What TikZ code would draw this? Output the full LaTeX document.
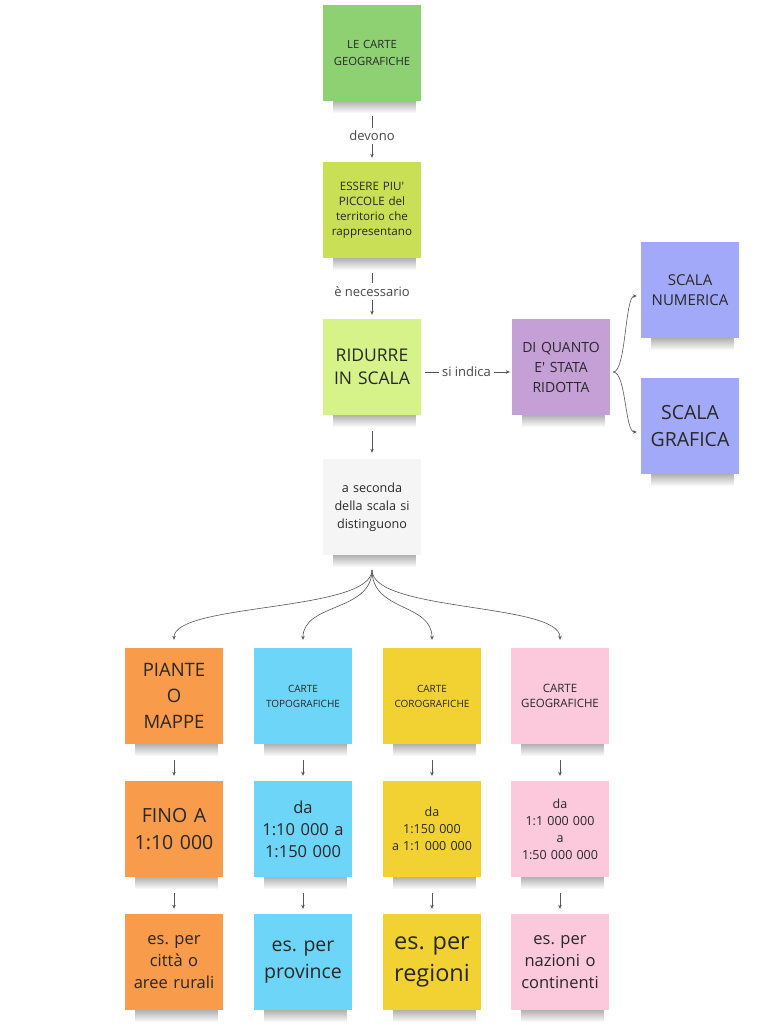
\documentclass[tikz,border=0pt]{standalone}
\usepackage{fontspec}
\setmainfont{Open Sans}
\usetikzlibrary{arrows.meta, positioning, calc, backgrounds, fadings}
\definecolor{mytext}{RGB}{40,40,40}
\definecolor{myline}{RGB}{85,85,85}
\definecolor{mygreen}{RGB}{141,209,115}
\definecolor{mylime}{RGB}{201,223,86}
\definecolor{mylight}{RGB}{214,243,138}
\definecolor{mywhite}{RGB}{245,245,245}
\definecolor{mypurple}{RGB}{197,160,215}
\definecolor{myblue}{RGB}{163,169,249}
\definecolor{myorange}{RGB}{248,155,75}
\definecolor{mysky}{RGB}{109,213,248}
\definecolor{myyellow}{RGB}{242,210,51}
\definecolor{mypink}{RGB}{251,200,220}
\newcommand{\fs}[2]{\fontsize{#1}{#2}\selectfont}
\newcommand{\apo}{\textquotesingle}
\frenchspacing
\tikzset{
  note/.style={rectangle, minimum width=98pt, minimum height=96pt,
    text width=94pt, align=center, inner sep=0pt, text=mytext},
  conn/.style={-{Stealth[length=4pt,width=3.5pt]}, line width=0.6pt, color=myline},
  lbl/.style={fill=white, inner sep=3pt, font=\fs{13}{15}, text=mytext!85}
}

\begin{document}
\begin{tikzpicture}[x=1pt, y=-1pt]
  \useasboundingbox (0,0) rectangle (768,1024);

  % main column
  \node[note, fill=mygreen, font=\fs{11.3}{17}] (carte) at (372,53) {LE CARTE\\GEOGRAFICHE};
  \node[note, fill=mylime, font=\fs{11.6}{15}] (piccole) at (372,210) {ESSERE PIU\apo\\PICCOLE del\\territorio che\\rappresentano};
  \node[note, fill=mylight, font=\fs{17.5}{23}] (ridurre) at (372,367) {RIDURRE\\IN SCALA};
  \node[note, fill=mywhite, font=\fs{12.6}{18}] (seconda) at (372,507) {a seconda\\della scala si\\distinguono};

  % right side
  \node[note, fill=mypurple, font=\fs{14}{20}] (quanto) at (561,367) {DI QUANTO\\E\apo{} STATA\\RIDOTTA};
  \node[note, fill=myblue, font=\fs{15}{20}] (numerica) at (690,290) {SCALA\\NUMERICA};
  \node[note, fill=myblue, font=\fs{19.5}{27}] (grafica) at (690,426) {SCALA\\GRAFICA};

  % types of maps
  \node[note, fill=myorange, font=\fs{18.5}{26}] (piante) at (174,696) {PIANTE\\O\\MAPPE};
  \node[note, fill=mysky, font=\fs{10}{15}] (topo) at (303,696) {CARTE\\TOPOGRAFICHE};
  \node[note, fill=myyellow, font=\fs{10}{15}] (coro) at (432,696) {CARTE\\COROGRAFICHE};
  \node[note, fill=mypink, font=\fs{11.5}{15}] (geo) at (560,696) {CARTE\\GEOGRAFICHE};

  % scales
  \node[note, fill=myorange, font=\fs{19.5}{27}] (fino) at (174,829) {FINO A\\1:10 000};
  \node[note, fill=mysky, font=\fs{16.5}{22}] (da1) at (303,829) {da\\1:10 000 a\\1:150 000};
  \node[note, fill=myyellow, font=\fs{12.5}{17}] (da2) at (432,829) {da\\1:150 000\\a 1:1 000 000};
  \node[note, fill=mypink, font=\fs{12.5}{17}] (da3) at (560,829) {da\\1:1 000 000\\a\\1:50 000 000};

  % examples
  \node[note, fill=myorange, font=\fs{16.5}{22}] (es1) at (174,962) {es. per\\città o\\aree rurali};
  \node[note, fill=mysky, font=\fs{19.5}{27}] (es2) at (303,962) {es. per\\province};
  \node[note, fill=myyellow, font=\fs{23.5}{32}] (es3) at (432,962) {es. per\\regioni};
  \node[note, fill=mypink, font=\fs{16.5}{22}] (es4) at (560,962) {es. per\\nazioni o\\continenti};

  % shadows under the notes
  \begin{scope}[on background layer]
    \fill[white] (0,0) rectangle (768,1024);
    \foreach \n in {carte,piccole,ridurre,seconda,quanto,numerica,grafica,
                    piante,topo,coro,geo,fino,da1,da2,da3,es1,es2,es3,es4}
      \fill[black, opacity=0.3, path fading=south]
        ($(\n.south west)+(10,0)$) rectangle ($(\n.south east)+(-5,12)$);
  \end{scope}

  % connectors
  \draw[conn, shorten <=15pt, shorten >=4pt] (carte) -- node[lbl, pos=0.57] {devono} (piccole);
  \draw[conn, shorten <=15pt, shorten >=4pt] (piccole) -- node[lbl, pos=0.55] {è necessario} (ridurre);
  \draw[conn, shorten <=16pt, shorten >=6pt] (ridurre) -- (seconda);
  \draw[conn, shorten <=4pt, shorten >=2pt] ([yshift=-5pt]ridurre.east) -- node[lbl] {si indica} ([yshift=-5pt]quanto.west);

  \draw[conn, shorten <=3pt, shorten >=4pt] ([yshift=-5pt]quanto.east) .. controls +(16,0) and +(-16,0) .. ([yshift=-6pt]numerica.west);
  \draw[conn, shorten <=3pt, shorten >=4pt] ([yshift=-5pt]quanto.east) .. controls +(16,0) and +(-16,0) .. ([yshift=-6pt]grafica.west);

  \coordinate (fork) at (372,570);
  \foreach \t in {piante,topo,coro,geo}
    \draw[conn, shorten >=8pt] (fork) .. controls +(0,42) and +(0,-45) .. (\t.north);

  \foreach \a/\b in {piante/fino,topo/da1,coro/da2,geo/da3,fino/es1,da1/es2,da2/es3,da3/es4}
    \draw[conn, shorten <=16pt, shorten >=5pt] (\a) -- (\b);
\end{tikzpicture}
\end{document}
